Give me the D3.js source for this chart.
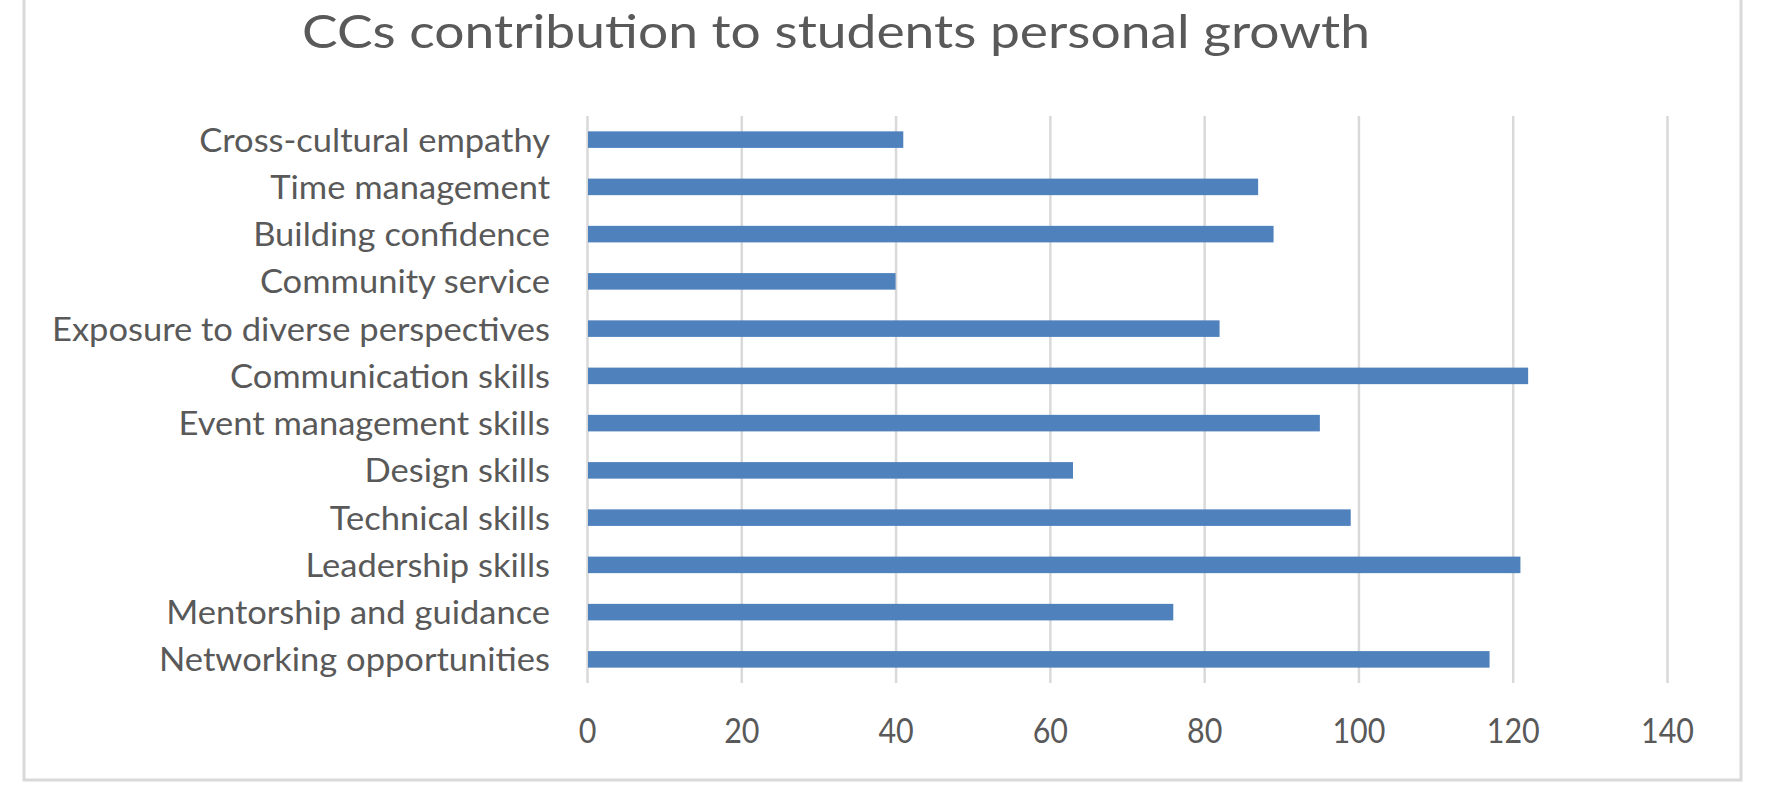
<!DOCTYPE html>
<html lang="en">

<head>
    <meta charset="UTF-8">
    <script src="https://d3js.org/d3.v7.min.js"></script>
    <title>CCs contribution</title>
</head>

<body style="margin: 0; background: #fff;">
</body>
<script>
    // categories top to bottom, as in the chart
    const categories = [
        "Cross-cultural empathy",
        "Time management",
        "Building confidence",
        "Community service",
        "Exposure to diverse perspectives",
        "Communication skills",
        "Event management skills",
        "Design skills",
        "Technical skills",
        "Leadership skills",
        "Mentorship and guidance",
        "Networking opportunities"
    ];
    const values = [41, 87, 89, 40, 82, 122, 95, 63, 99, 121, 76, 117];
    const xTicks = [0, 20, 40, 60, 80, 100, 120, 140];
    const title = "CCs contribution to students personal growth";

    function main() {
        const width = 1782;
        const height = 787;
        const plot = { left: 587, right: 1667, top: 116, bottom: 683 };
        const textColor = "#595959";
        const gridColor = "#d9d9d9";
        const font = "Lato, 'Open Sans', sans-serif";

        const svg = d3.select("body")
            .append("svg")
            .attr("width", width)
            .attr("height", height)
            .attr("viewBox", [0, 0, width, height])
            .style("font-family", font);

        svg.append("rect")
            .attr("width", width).attr("height", height)
            .attr("fill", "#fff");

        // chart area frame (top edge sits above the picture)
        svg.append("rect")
            .attr("x", 24).attr("y", -10)
            .attr("width", 1741 - 24).attr("height", 780 + 10)
            .attr("fill", "none")
            .attr("stroke", gridColor)
            .attr("stroke-width", 3);

        const x = d3.scaleLinear()
            .domain([0, 140])
            .range([plot.left, plot.right]);

        const y = d3.scaleBand()
            .domain(categories)
            .range([plot.top, plot.bottom])
            .paddingInner(0.65)
            .paddingOuter(0.325);

        // vertical gridlines
        svg.append("g")
            .attr("transform", `translate(0,${plot.bottom})`)
            .call(d3.axisBottom(x).tickValues(xTicks).tickSize(-(plot.bottom - plot.top)).tickFormat(""))
            .call(g => g.select(".domain").remove())
            .call(g => g.selectAll(".tick line")
                .attr("stroke", gridColor)
                .attr("stroke-width", 2.5));

        // bars
        svg.append("g")
            .selectAll("rect")
            .data(categories)
            .join("rect")
            .attr("x", x(0) + 1)
            .attr("y", d => y(d))
            .attr("height", y.bandwidth())
            .attr("width", (d, i) => x(values[i]) - x(0) - 1)
            .attr("fill", "#4f81bd");

        // x tick labels
        const xLab = svg.append("g")
            .attr("transform", "translate(0,731)")
            .call(d3.axisBottom(x).tickValues(xTicks).tickSize(0).tickPadding(0))
            .call(g => g.select(".domain").remove());
        xLab.selectAll("text")
            .attr("y", 0)
            .attr("dy", "0.36em")
            .attr("fill", textColor)
            .attr("font-size", 34)
            .attr("font-family", font);

        // category labels
        const yLab = svg.append("g")
            .attr("transform", "translate(550,0)")
            .call(d3.axisLeft(y).tickSize(0).tickPadding(0))
            .call(g => g.select(".domain").remove());
        yLab.selectAll("text")
            .attr("dy", "0.36em")
            .attr("fill", textColor)
            .attr("font-size", 33.5)
            .attr("font-family", font);

        // title
        const t = svg.append("text")
            .attr("x", 836)
            .attr("y", 48)
            .attr("text-anchor", "middle")
            .attr("fill", textColor)
            .attr("font-size", 47)
            .text(title);

        // stretch text to the widths of the original font
        const longest = yLab.selectAll("text").nodes()
            .reduce((a, n) => Math.max(a, n.getComputedTextLength()), 0);
        const k = 498 / longest;
        yLab.selectAll("text").each(function () {
            d3.select(this)
                .attr("textLength", this.getComputedTextLength() * k)
                .attr("lengthAdjust", "spacingAndGlyphs");
        });
        const last = xLab.selectAll("text").nodes().slice(-1)[0];
        const kx = 53 / last.getComputedTextLength();
        xLab.selectAll("text").each(function () {
            d3.select(this)
                .attr("textLength", this.getComputedTextLength() * kx)
                .attr("lengthAdjust", "spacingAndGlyphs");
        });
        t.attr("textLength", 1068).attr("lengthAdjust", "spacingAndGlyphs");
    }
    main();
</script>

</html>
